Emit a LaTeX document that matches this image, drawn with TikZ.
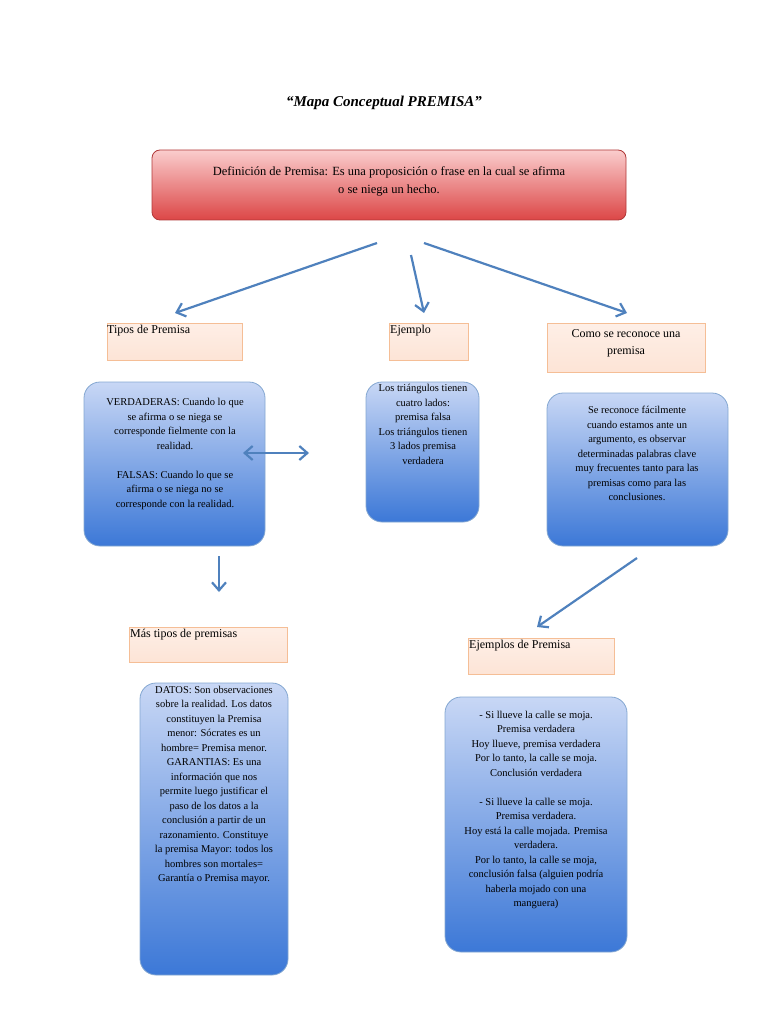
\documentclass[tikz,border=0pt]{standalone}
\usepackage{fontspec}
\setmainfont{Liberation Serif}
\usetikzlibrary{arrows.meta}
\definecolor{arr}{RGB}{79,129,189}
\definecolor{bluetop}{RGB}{200,215,245}
\definecolor{bluebot}{RGB}{60,120,215}
\definecolor{redtop}{RGB}{250,205,205}
\definecolor{redbot}{RGB}{220,70,70}
\definecolor{peach}{RGB}{253,228,214}
\definecolor{peachd}{RGB}{245,190,150}
\begin{document}
\begin{tikzpicture}[x=1pt,y=-1pt,
  blue/.style={rounded corners=16pt,draw=arr!70!white,top color=bluetop,bottom color=bluebot,line width=0.8pt},
  lab/.style={draw=peachd,fill=peach,top color=white!40!peach,bottom color=peach,line width=0.8pt,drop shadow/.style={}},
  txt/.style={font=\fontsize{10.5}{14.5}\selectfont,align=center,inner sep=0pt},
  ltxt/.style={font=\fontsize{12}{17}\selectfont,inner sep=0pt},
  con/.style={draw=arr,line width=2.2pt,-{Straight Barb[length=8pt,width=14pt]}}]
\useasboundingbox (0,0) rectangle (768,1024);
\node[font=\fontsize{15}{18}\selectfont\bfseries\itshape] (title) at (384,103) {“Mapa Conceptual PREMISA”};
\draw[rounded corners=8pt,draw=redbot!80!black,top color=redtop,bottom color=redbot,line width=0.8pt] (152,150) rectangle (626,220);
\node[ltxt,align=center,font=\fontsize{12.5}{18}\selectfont] (def) at (389,181) {Definición de Premisa: Es una proposición o frase en la cual se afirma\\o se niega un hecho.};
% label boxes
\draw[lab] (107,323) rectangle (242,360); \node[ltxt,anchor=north west] (tipos) at (107,325) {Tipos de Premisa};
\draw[lab] (389,323) rectangle (468,360); \node[ltxt,anchor=north west] (ej) at (390,325) {Ejemplo};
\draw[lab] (547,323) rectangle (705,372); \node[ltxt,align=center] (como) at (626,343) {Como se reconoce una\\premisa};
\draw[lab] (129,627) rectangle (287,662); \node[ltxt,anchor=north west] (mas) at (130,629) {Más tipos de premisas};
\draw[lab] (468,638) rectangle (614,674); \node[ltxt,anchor=north west] (ejp) at (469,640) {Ejemplos de Premisa};
% blue boxes
\draw[blue] (84,382) rectangle (265,546);
\node[txt] (verd) at (175,454) {VERDADERAS: Cuando lo que\\se afirma o se niega se\\corresponde fielmente con la\\realidad.\\[14.5pt]FALSAS: Cuando lo que se\\afirma o se niega no se\\corresponde con la realidad.};
\draw[blue] (366,382) rectangle (479,522);
\node[txt,anchor=north] (tri) at (423,384) {Los triángulos tienen\\cuatro lados:\\premisa falsa\\Los triángulos tienen\\3 lados premisa\\verdadera};
\draw[blue] (547,393) rectangle (728,546);
\node[txt,anchor=north] (rec) at (637,406) {Se reconoce fácilmente\\cuando estamos ante un\\argumento, es observar\\determinadas palabras clave\\muy frecuentes tanto para las\\premisas como para las\\conclusiones.};
\draw[blue] (140,683) rectangle (288,975);
\node[txt,anchor=north] (datos) at (214,686) {DATOS: Son observaciones\\sobre la realidad. Los datos\\constituyen la Premisa\\menor: Sócrates es un\\hombre= Premisa menor.\\GARANTIAS: Es una\\información que nos\\permite luego justificar el\\paso de los datos a la\\conclusión a partir de un\\razonamiento. Constituye\\la premisa Mayor: todos los\\hombres son mortales=\\Garantía o Premisa mayor.};
\draw[blue] (445,697) rectangle (627,952);
\node[txt,anchor=north] (llueve) at (536,711) {- Si llueve la calle se moja.\\Premisa verdadera\\Hoy llueve, premisa verdadera\\Por lo tanto, la calle se moja.\\Conclusión verdadera\\[14.5pt]- Si llueve la calle se moja.\\Premisa verdadera.\\Hoy está la calle mojada. Premisa\\verdadera.\\Por lo tanto, la calle se moja,\\conclusión falsa (alguien podría\\haberla mojado con una\\manguera)};
% connectors
\coordinate (a1) at (377,243); \coordinate (t1) at (175,313);
\coordinate (a2) at (411,255); \coordinate (t2) at (424,313);
\coordinate (a3) at (424,243); \coordinate (t3) at (627,313);
\coordinate (d1) at (243,453); \coordinate (d2) at (309,453);
\coordinate (v1) at (219,556); \coordinate (v2) at (219,592);
\coordinate (r1) at (637,558); \coordinate (r2) at (537,627);
\draw[con] (a1) -- (t1);
\draw[con] (a2) -- (t2);
\draw[con] (a3) -- (t3);
\draw[con,{Straight Barb[length=8pt,width=14pt]}-{Straight Barb[length=8pt,width=14pt]}] (d1) -- (d2);
\draw[con] (v1) -- (v2);
\draw[con] (r1) -- (r2);
\end{tikzpicture}
\end{document}
